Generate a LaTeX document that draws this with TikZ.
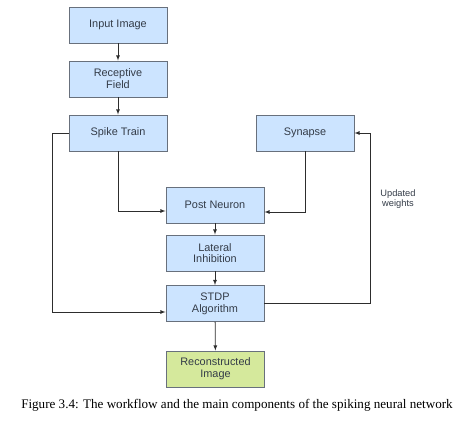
\documentclass[tikz,border=0pt]{standalone}
\usepackage{fontspec}
\setmainfont{Liberation Serif}
\newfontfamily\boxfont{Liberation Sans}
\usetikzlibrary{positioning}
\definecolor{boxblue}{RGB}{204,228,255}
\definecolor{boxgreen}{RGB}{213,233,156}
\definecolor{boxline}{RGB}{104,112,124}
\definecolor{boxtext}{RGB}{52,60,72}
\definecolor{wire}{RGB}{45,45,45}
\tikzset{
  stage/.style={draw=boxline, fill=boxblue, line width=0.9pt, minimum width=98pt,
    minimum height=36pt, inner sep=0pt, align=center, text=boxtext,
    font=\boxfont\fontsize{10.9}{11.8}\selectfont},
  wireline/.style={draw=wire, line width=0.8pt}
}
\begin{document}
\begin{tikzpicture}[>=latex, x=1pt, y=-1pt]
\useasboundingbox (0,0) rectangle (474,429);

\node[stage] (input) at (118,25) {Input Image};
\node[stage] (receptive) at (118,79) {Receptive\\Field};
\node[stage] (spike) at (118,133) {Spike Train};
\node[stage] (synapse) at (305,133) {Synapse};
\node[stage] (post) at (215,205) {Post Neuron};
\node[stage] (lateral) at (215,253) {Lateral\\Inhibition};
\node[stage] (stdp) at (215,303.5) {STDP\\Algorithm};
\node[stage, fill=boxgreen] (recon) at (215.5,369) {Reconstructed\\Image};

\draw[wireline, ->](input)--(receptive);
\draw[wireline, ->](receptive)--(spike);
\draw[wireline, ->](spike.south)|-([yshift=-6pt]post.west);
\draw[wireline, ->](synapse.south)|-([yshift=-7pt]post.east);
\draw[wireline, ->](post)--(lateral);
\draw[wireline, ->](lateral)--(stdp);
\draw[wireline, ->](stdp)--(recon);
\draw[wireline, ->](spike.west)--++(-16,0)|-([yshift=-8.5pt]stdp.west);
\draw[wireline, ->](stdp.east)--++(106,0)|-(synapse.east);

\node[align=center, text=boxtext, font=\boxfont\fontsize{9.3}{9.5}\selectfont] (upd) at (398,199) {Updated\\weights};
\node[font=\fontsize{13.1}{15}\selectfont] (cap) at (237,405) {Figure 3.4: The workflow and the main components of the spiking neural network};
\end{tikzpicture}
\end{document}
